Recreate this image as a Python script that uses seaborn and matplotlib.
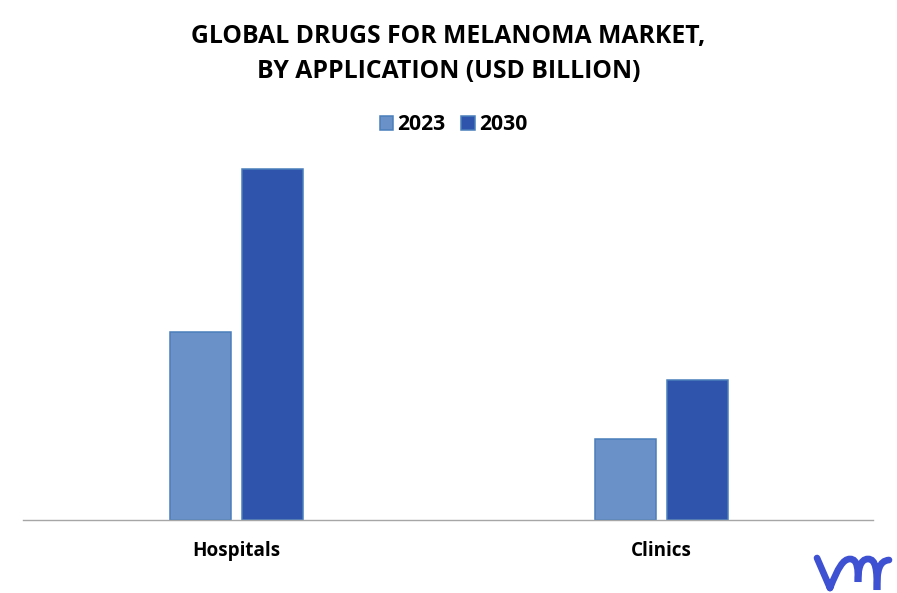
import pandas as pd
import seaborn as sns
import matplotlib.pyplot as plt
from matplotlib.path import Path
from matplotlib.patches import PathPatch

categories = ["Hospitals", "Clinics"]
years = ["2023", "2030"]
values_2023 = [1.88, 0.81]
values_2030 = [3.51, 1.40]
title = "GLOBAL DRUGS FOR MELANOMA MARKET,\nBY APPLICATION (USD BILLION)"

W, H = 897, 593

sns.set_theme(style="white")
plt.rcParams["font.family"] = ["Open Sans", "DejaVu Sans"]

df = pd.DataFrame({
    "category": categories * 2,
    "year": [years[0]] * 2 + [years[1]] * 2,
    "value": values_2023 + values_2030,
})

fig = plt.figure(figsize=(W / 100, H / 100), dpi=100)
ax = fig.add_axes([23 / W, 1 - 520 / H, 850 / W, 370 / H])

sns.barplot(data=df, x="category", y="value", hue="year",
            palette=["#6a92c9", "#2e54ab"], width=0.339, gap=0.15,
            edgecolor="#4a7ebb", linewidth=1.1, saturation=1, ax=ax)

ax.set_xlim(-0.503, 1.497)
ax.set_ylim(0, 3.70)
ax.set_xlabel("")
ax.set_ylabel("")
ax.set_yticks([])
sns.despine(ax=ax, left=True)
ax.spines["bottom"].set_color("#a6a6a6")
ax.spines["bottom"].set_linewidth(1.0)
ax.tick_params(axis="x", length=0, pad=15)
for lab in ax.get_xticklabels():
    lab.set_fontsize(13.6)
    lab.set_fontweight("bold")
    lab.set_color("#000000")

leg = ax.legend(loc="center", bbox_to_anchor=(453.5 / W, 1 - 124.5 / H),
                bbox_transform=fig.transFigure, ncol=2, frameon=False,
                fontsize=15.2, handlelength=0.64, handleheight=0.64,
                handletextpad=0.19, columnspacing=0.76, borderpad=0)
for t in leg.get_texts():
    t.set_fontweight("bold")
    t.set_color("#000000")

fig.text(448.5 / W, 1 - 54 / H, title, ha="center", va="center",
         fontsize=17.8, fontweight="bold", color="#000000", linespacing=1.52)

# logo bottom right
logo = fig.add_axes([0, 0, 1, 1], facecolor="none")
logo.set_xlim(0, W)
logo.set_ylim(H, 0)
logo.axis("off")
verts = [(817, 558), (830, 588), (830, 588), (838, 568), (843, 559), (850, 559),
         (858, 559), (858, 570), (858, 582), (858, 570), (860, 559), (868, 559),
         (876, 559), (877, 570), (877, 590), (877, 570), (879, 561), (889, 560)]
codes = [Path.MOVETO, Path.LINETO, Path.MOVETO, Path.CURVE4, Path.CURVE4, Path.CURVE4,
         Path.CURVE4, Path.CURVE4, Path.CURVE4, Path.CURVE4, Path.CURVE4, Path.CURVE4,
         Path.CURVE4, Path.CURVE4, Path.CURVE4, Path.CURVE4, Path.CURVE4, Path.CURVE4]
logo.add_patch(PathPatch(Path(verts, codes), fc="none", ec="#3d51d2", lw=4.8, capstyle="round"))

fig.savefig("out.png", dpi=100)
